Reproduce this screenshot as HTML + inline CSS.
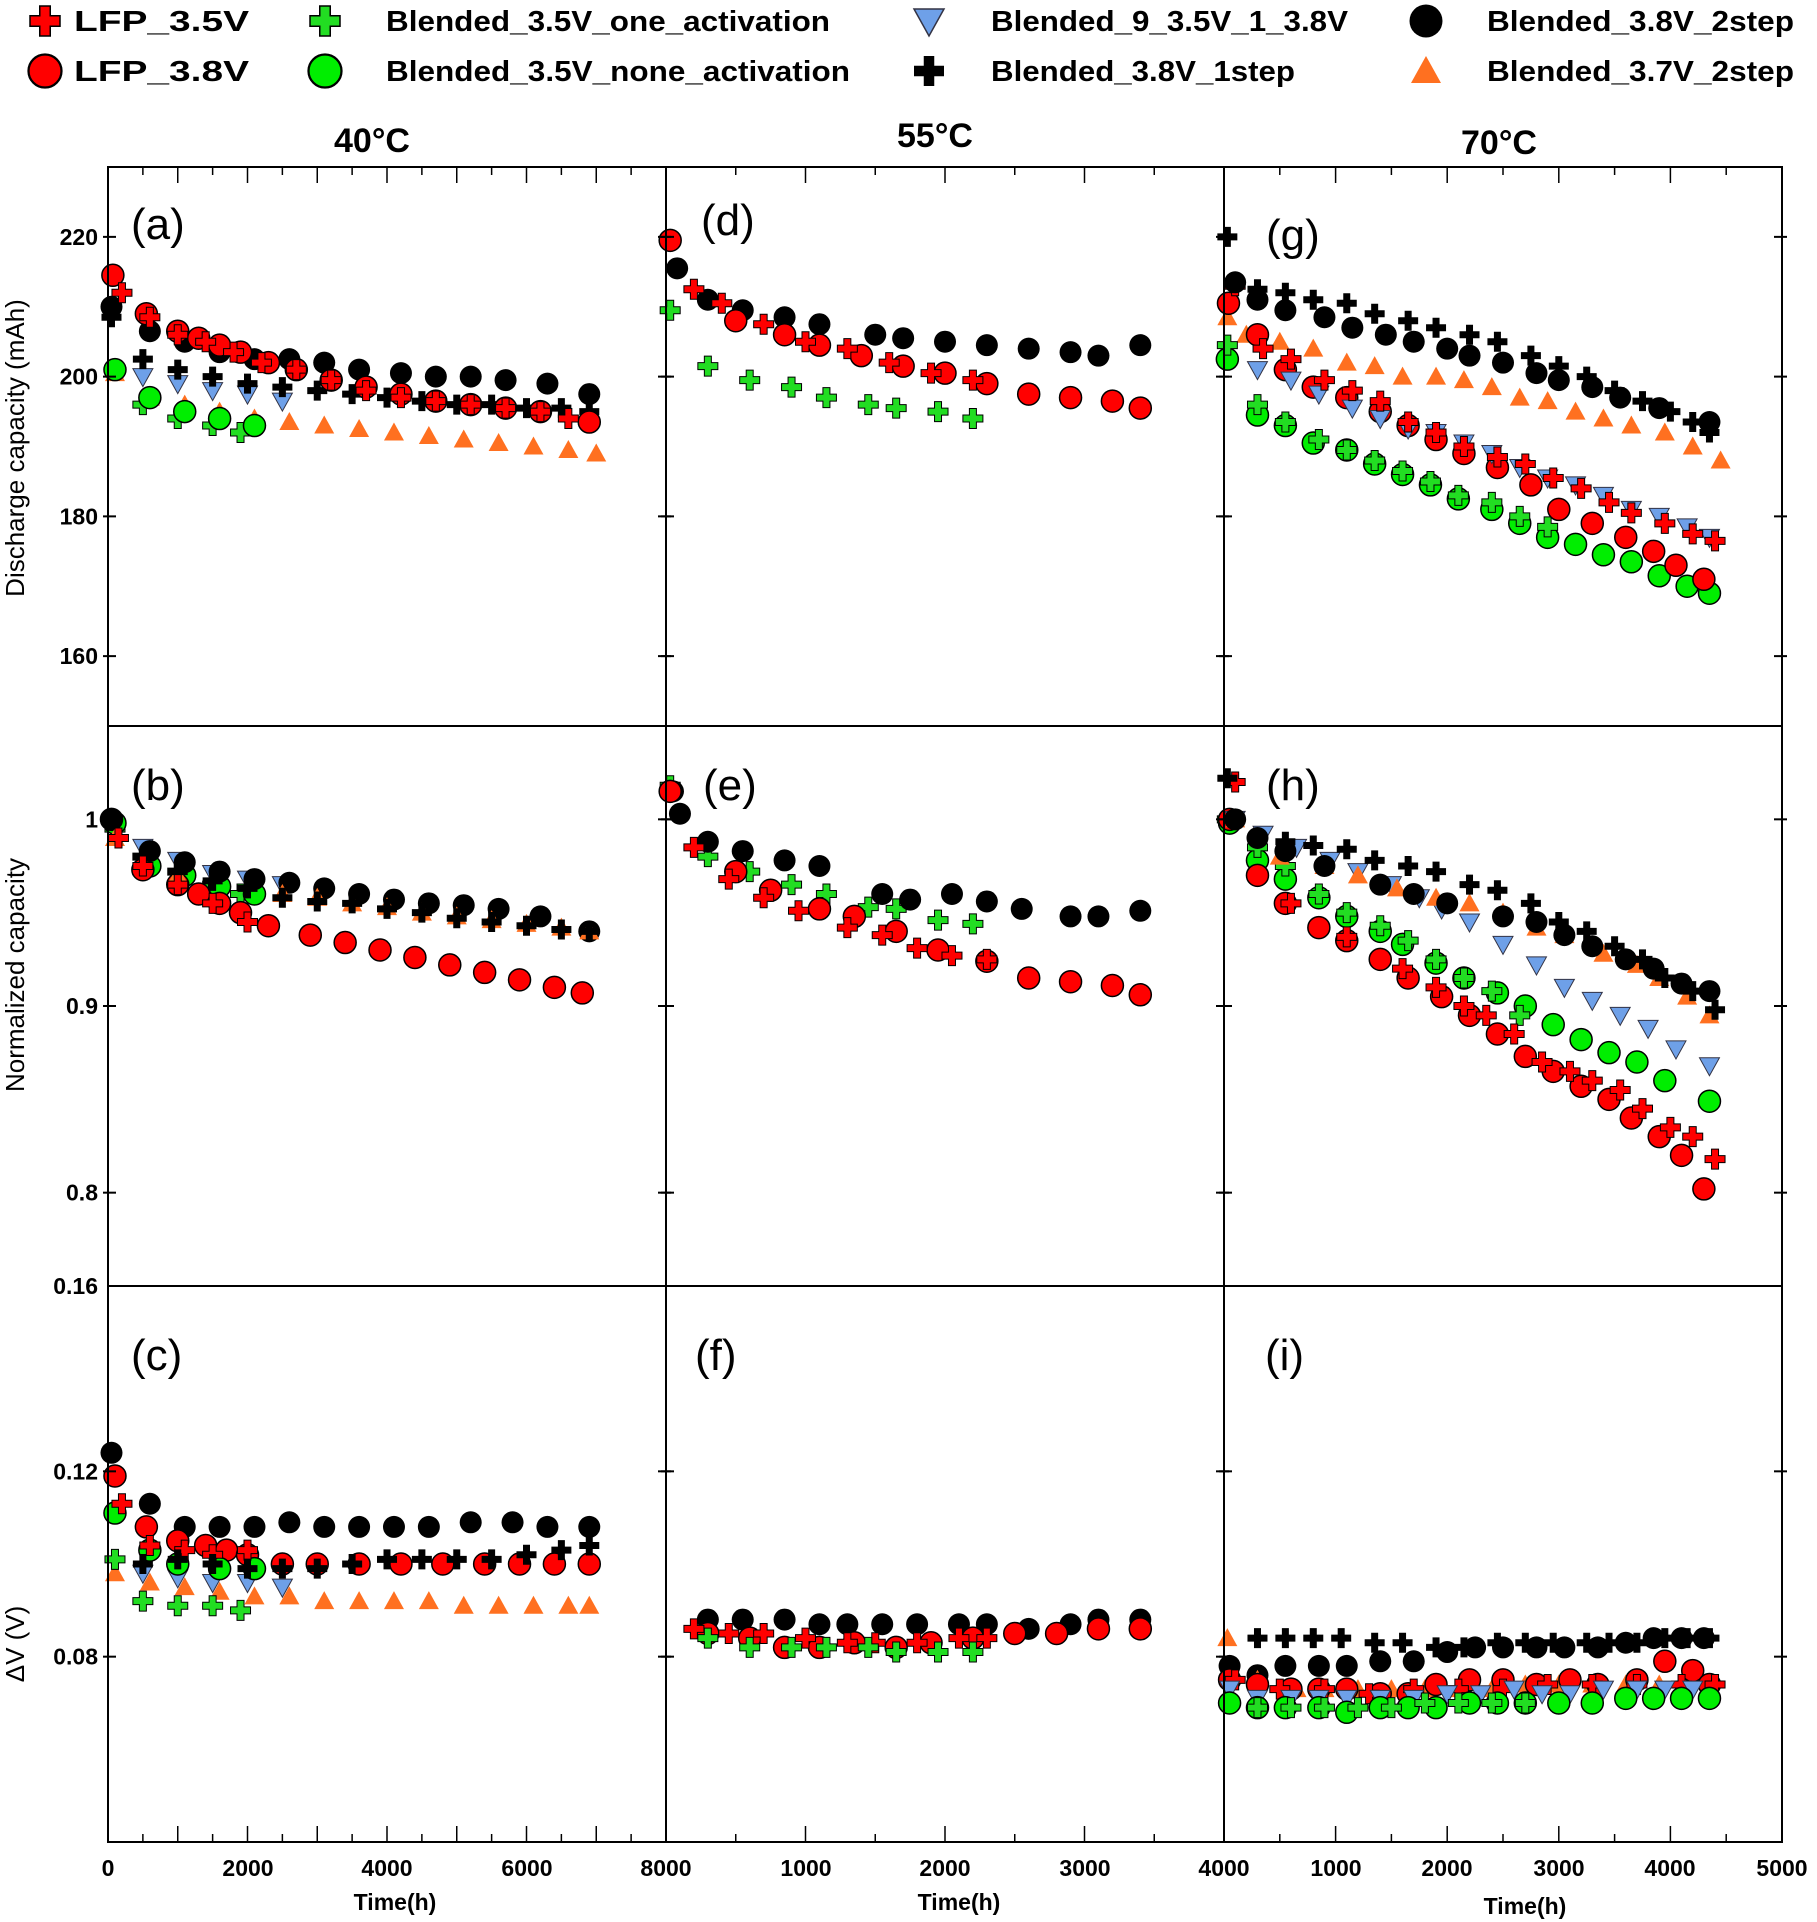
<!DOCTYPE html>
<html><head><meta charset="utf-8"><style>
html,body{margin:0;padding:0;background:#fff;}
svg{display:block;font-family:"Liberation Sans",Arial,sans-serif;}
</style></head><body>
<svg id="s" width="1817" height="1922" viewBox="0 0 1817 1922" xmlns="http://www.w3.org/2000/svg"></svg>
<script>
const S=document.getElementById('s');let h='';
const X0=[108,666,1224],X1=[666,1224,1782],Y0=[167,726,1286],Y1=[726,1286,1842];
const XR=[8000,4000,5000];const YR=[[150,230],[0.75,1.05],[0.04,0.16]];
function px(c,t){return X0[c]+t/XR[c]*(X1[c]-X0[c]);}
function py(r,v){const[a,b]=YR[r];return Y1[r]-(v-a)/(b-a)*(Y1[r]-Y0[r]);}
const R=11;
function mk(type,x,y){
 if(type=='rc')return `<circle cx="${x}" cy="${y}" r="${R}" fill="#f00" stroke="#000" stroke-width="1.5"/>`;
 if(type=='gc')return `<circle cx="${x}" cy="${y}" r="${R}" fill="#0e0" stroke="#000" stroke-width="1.5"/>`;
 if(type=='kc')return `<circle cx="${x}" cy="${y}" r="${R}" fill="#000"/>`;
 if(type=='bt')return `<path d="M${x-10},${y-8}L${x+10},${y-8}L${x},${y+10}Z" fill="#6ea0e8" stroke="#334" stroke-width="1"/>`;
 if(type=='ot')return `<path d="M${x-10},${y+8}L${x+10},${y+8}L${x},${y-10}Z" fill="#ff7020"/>`;
 let f=type=='rp'?'#f00':type=='gp'?'#2d2':'#000';let s=type=='kp'?'none':'#000';let a=10,b=3.5;
 return `<path d="M${x-b},${y-a}h${2*b}v${a-b}h${a-b}v${2*b}h${-(a-b)}v${a-b}h${-2*b}v${-(a-b)}h${-(a-b)}v${-2*b}h${a-b}Z" fill="${f}" stroke="${s}" stroke-width="1"/>`;
}
function ser(c,r,type,arr){for(let i=0;i<arr.length;i+=2)h+=mk(type,px(c,arr[i]),py(r,arr[i+1]));}
// panel a
ser(0,0,'ot',[100,200.5,600,197,1100,196,1600,195,2100,194,2600,193.5,3100,193,3600,192.5,4100,192,4600,191.5,5100,191,5600,190.5,6100,190,6600,189.5,7000,189]);
ser(0,0,'gp',[100,201,500,196,1000,194,1500,193,1900,192]);
ser(0,0,'gc',[100,201,600,197,1100,195,1600,194,2100,193]);
ser(0,0,'bt',[500,200,1000,199,1500,198,2000,197.5,2500,196.5]);
ser(0,0,'kc',[50,210,600,206.5,1100,205,1600,203.5,2100,202.5,2600,202.5,3100,202,3600,201,4200,200.5,4700,200,5200,200,5700,199.5,6300,199,6900,197.5]);
ser(0,0,'kp',[50,208.5,500,202.5,1000,201,1500,200,2000,199,2500,198.5,3000,198,3500,197.5,4000,197,4500,196.5,5000,196,5500,196,6000,195.5,6500,195.5,6900,195]);
ser(0,0,'rc',[70,214.5,550,209,1000,206.5,1300,205.5,1600,204.5,1900,203.5,2300,202,2700,201,3200,199.5,3700,198.5,4200,197.5,4700,196.5,5200,196,5700,195.5,6200,195,6900,193.5]);
ser(0,0,'rp',[200,212,600,208.5,1000,206,1400,205,1800,203.5,2200,202,2700,201,3200,199.5,3700,198,4200,197,4700,196.5,5200,196,5700,195.5,6200,195,6600,194]);
// panel d
ser(1,0,'gp',[30,209.5,300,201.5,600,199.5,900,198.5,1150,197,1450,196,1650,195.5,1950,195,2200,194]);
ser(1,0,'kc',[80,215.5,300,211,550,209.5,850,208.5,1100,207.5,1500,206,1700,205.5,2000,205,2300,204.5,2600,204,2900,203.5,3100,203,3400,204.5]);
ser(1,0,'rc',[30,219.5,500,208,850,206,1100,204.5,1400,203,1700,201.5,2000,200.5,2300,199,2600,197.5,2900,197,3200,196.5,3400,195.5]);
ser(1,0,'rp',[200,212.5,400,210.5,700,207.5,1000,205,1300,204,1600,202,1900,200.5,2200,199.5]);
// panel g
ser(2,0,'ot',[30,208.5,200,206,500,205,800,204,1100,202,1350,201.5,1600,200,1900,200,2150,199.5,2400,198.5,2650,197,2900,196.5,3150,195,3400,194,3650,193,3950,192,4200,190,4450,188]);
ser(2,0,'gc',[30,202.5,300,194.5,550,193,800,190.5,1100,189.5,1350,187.5,1600,186,1850,184.5,2100,182.5,2400,181,2650,179,2900,177,3150,176,3400,174.5,3650,173.5,3900,171.5,4150,170,4350,169]);
ser(2,0,'gp',[30,204.5,300,196,550,193.5,850,191,1100,189.5,1350,188,1600,186.5,1850,185,2100,183,2400,182,2650,180,2900,178.5]);
ser(2,0,'rc',[40,210.5,300,206,550,201,800,198.5,1100,197,1400,195,1650,193,1900,191,2150,189,2450,187,2750,184.5,3000,181,3300,179,3600,177,3850,175,4050,173,4300,171]);
ser(2,0,'bt',[300,201,600,199.5,850,197.5,1150,195.5,1400,194,1650,192.5,1900,192,2150,190.5,2400,189,2650,187,2900,185.5,3150,184.5,3400,183,3650,181,3900,180,4150,178.5,4350,177]);
ser(2,0,'rp',[100,213,350,204,600,202.5,900,199.5,1150,198,1400,196.5,1650,193.5,1900,192,2150,190,2450,188.5,2700,187.5,2950,185.5,3200,184,3450,182,3650,180.5,3950,179,4200,177.5,4400,176.5]);
ser(2,0,'kc',[100,213.5,300,211,550,209.5,900,208.5,1150,207,1450,206,1700,205,2000,204,2200,203,2500,202,2800,200.5,3000,199.5,3300,198.5,3550,197,3900,195.5,4350,193.5]);
ser(2,0,'kp',[30,220,300,212.5,550,212,800,211,1100,210.5,1350,209,1650,208,1900,207,2200,206,2450,205,2750,203,3000,201.5,3250,200,3500,198,3750,196.5,4000,195,4200,193.5,4350,192]);
// panel b
ser(0,1,'gp',[100,0.995,500,0.98,1000,0.972,1500,0.965,1900,0.96]);
ser(0,1,'gc',[100,0.998,600,0.975,1100,0.97,1600,0.964,2100,0.96]);
ser(0,1,'bt',[500,0.985,1000,0.978,1500,0.971,2000,0.968,2500,0.965]);
ser(0,1,'rc',[50,1.0,500,0.973,1000,0.965,1300,0.96,1600,0.955,1900,0.95,2300,0.943,2900,0.938,3400,0.934,3900,0.93,4400,0.926,4900,0.922,5400,0.918,5900,0.914,6400,0.91,6800,0.907]);
ser(0,1,'kc',[50,1.0,600,0.983,1100,0.977,1600,0.972,2100,0.968,2600,0.966,3100,0.963,3600,0.96,4100,0.957,4600,0.955,5100,0.954,5600,0.952,6200,0.948,6900,0.94]);
ser(0,1,'ot',[100,0.99,1000,0.97,2500,0.96,3000,0.958,3500,0.955,4000,0.953,4500,0.95,5000,0.948,5500,0.946,6000,0.944,6500,0.942,6900,0.94]);
ser(0,1,'kp',[50,1.0,500,0.98,1000,0.972,1500,0.967,2000,0.963,2500,0.958,3000,0.956,3500,0.955,4000,0.952,4500,0.95,5000,0.947,5500,0.945,6000,0.943,6500,0.941,6900,0.94]);
ser(0,1,'rp',[150,0.99,500,0.975,1000,0.965,1500,0.955,2000,0.945]);
// panel e
ser(1,1,'gp',[30,1.018,300,0.98,600,0.972,900,0.965,1150,0.96,1450,0.953,1650,0.952,1950,0.946,2200,0.944]);
ser(1,1,'kc',[50,1.015,100,1.003,300,0.988,550,0.983,850,0.978,1100,0.975,1550,0.96,1750,0.957,2050,0.96,2300,0.956,2550,0.952,2900,0.948,3100,0.948,3400,0.951]);
ser(1,1,'rc',[30,1.015,500,0.972,750,0.962,1100,0.952,1350,0.948,1650,0.94,1950,0.93,2300,0.924,2600,0.915,2900,0.913,3200,0.911,3400,0.906]);
ser(1,1,'rp',[200,0.985,450,0.968,700,0.958,950,0.951,1300,0.942,1550,0.938,1800,0.931,2050,0.927,2300,0.925]);
// panel h
ser(2,1,'gc',[50,0.998,300,0.978,550,0.968,850,0.958,1100,0.948,1400,0.94,1600,0.933,1900,0.923,2150,0.915,2450,0.907,2700,0.9,2950,0.89,3200,0.882,3450,0.875,3700,0.87,3950,0.86,4350,0.849]);
ser(2,1,'gp',[30,1.0,300,0.985,550,0.975,850,0.96,1100,0.95,1400,0.943,1650,0.935,1900,0.925,2150,0.915,2400,0.908,2650,0.895]);
ser(2,1,'rc',[50,1.0,300,0.97,550,0.955,850,0.942,1100,0.935,1400,0.925,1650,0.915,1950,0.905,2200,0.895,2450,0.885,2700,0.873,2950,0.865,3200,0.857,3450,0.85,3650,0.84,3900,0.83,4100,0.82,4300,0.802]);
ser(2,1,'rp',[100,1.02,600,0.955,1100,0.937,1600,0.92,1900,0.91,2150,0.9,2350,0.895,2600,0.885,2850,0.87,3100,0.865,3300,0.86,3550,0.855,3750,0.845,4000,0.835,4200,0.83,4400,0.818]);
ser(2,1,'bt',[100,1.0,350,0.992,650,0.985,950,0.978,1200,0.972,1500,0.965,1750,0.958,1950,0.952,2200,0.945,2500,0.933,2800,0.922,3050,0.91,3300,0.903,3550,0.895,3800,0.888,4050,0.877,4350,0.868]);
ser(2,1,'ot',[100,1.0,500,0.98,900,0.975,1200,0.97,1550,0.963,1900,0.958,2200,0.955,2500,0.95,2800,0.942,3050,0.938,3400,0.928,3700,0.922,3900,0.915,4150,0.905,4350,0.895]);
ser(2,1,'kc',[100,1.0,300,0.99,550,0.983,900,0.975,1400,0.965,1700,0.96,2000,0.955,2500,0.948,2800,0.945,3050,0.938,3300,0.932,3600,0.925,3850,0.92,4100,0.912,4350,0.908]);
ser(2,1,'kp',[30,1.022,300,0.99,550,0.988,800,0.986,1100,0.984,1350,0.978,1650,0.975,1900,0.972,2200,0.965,2450,0.962,2750,0.955,3000,0.945,3250,0.94,3500,0.932,3750,0.925,3950,0.915,4200,0.908,4400,0.898]);
// panel c
ser(0,2,'ot',[100,0.098,600,0.096,1100,0.095,1600,0.094,2100,0.093,2600,0.093,3100,0.092,3600,0.092,4100,0.092,4600,0.092,5100,0.091,5600,0.091,6100,0.091,6600,0.091,6900,0.091]);
ser(0,2,'gp',[100,0.101,500,0.092,1000,0.091,1500,0.091,1900,0.09]);
ser(0,2,'bt',[500,0.098,1000,0.097,1500,0.096,2000,0.096,2500,0.095]);
ser(0,2,'kc',[50,0.124,600,0.113,1100,0.108,1600,0.108,2100,0.108,2600,0.109,3100,0.108,3600,0.108,4100,0.108,4600,0.108,5200,0.109,5800,0.109,6300,0.108,6900,0.108]);
ser(0,2,'rc',[100,0.119,550,0.108,1000,0.105,1400,0.104,1700,0.103,2000,0.102,2500,0.1,3000,0.1,3600,0.1,4200,0.1,4800,0.1,5400,0.1,5900,0.1,6400,0.1,6900,0.1]);
ser(0,2,'gc',[100,0.111,600,0.103,1000,0.1,1600,0.099,2100,0.099]);
ser(0,2,'rp',[200,0.113,600,0.104,1100,0.103,1500,0.102,2000,0.103]);
ser(0,2,'kp',[500,0.1,1000,0.101,1500,0.1,2000,0.099,2500,0.099,3000,0.099,3500,0.1,4000,0.101,4500,0.101,5000,0.101,5500,0.101,6000,0.102,6500,0.103,6900,0.104]);
// panel f
ser(1,2,'kc',[300,0.088,550,0.088,850,0.088,1100,0.087,1300,0.087,1550,0.087,1800,0.087,2100,0.087,2300,0.087,2600,0.086,2900,0.087,3100,0.088,3400,0.088]);
ser(1,2,'rc',[300,0.085,600,0.084,850,0.082,1100,0.082,1350,0.083,1650,0.082,1900,0.083,2200,0.084,2500,0.085,2800,0.085,3100,0.086,3400,0.086]);
ser(1,2,'rp',[200,0.086,450,0.085,700,0.085,1000,0.084,1300,0.083,1500,0.083,1800,0.083,2100,0.084,2300,0.084]);
ser(1,2,'gp',[300,0.084,600,0.082,900,0.082,1150,0.082,1450,0.082,1650,0.081,1950,0.081,2200,0.081]);
// panel i
ser(2,2,'kp',[300,0.084,550,0.084,800,0.084,1050,0.084,1350,0.083,1600,0.083,1900,0.082,2150,0.082,2450,0.083,2700,0.083,2950,0.083,3250,0.083,3450,0.083,3700,0.083,3950,0.084,4150,0.084,4350,0.084]);
ser(2,2,'kc',[50,0.078,300,0.076,550,0.078,850,0.078,1100,0.078,1400,0.079,1700,0.079,2000,0.081,2250,0.082,2500,0.082,2800,0.082,3050,0.082,3350,0.082,3600,0.083,3850,0.084,4100,0.084,4300,0.084]);
ser(2,2,'ot',[30,0.084,300,0.075,650,0.073,900,0.073,1200,0.073,1500,0.073,1800,0.073,2100,0.073,2400,0.073,2700,0.074,3000,0.074,3300,0.074,3600,0.074,3900,0.074,4150,0.074,4350,0.073]);
ser(2,2,'rc',[50,0.075,300,0.074,600,0.073,850,0.073,1100,0.073,1400,0.072,1650,0.072,1900,0.074,2200,0.075,2500,0.075,2800,0.074,3100,0.075,3350,0.074,3700,0.075,3950,0.079,4200,0.077,4350,0.074]);
ser(2,2,'rp',[100,0.075,500,0.073,900,0.073,1300,0.072,1700,0.073,2100,0.073,2500,0.073,2900,0.074,3300,0.074,3700,0.074,4100,0.074,4400,0.074]);
ser(2,2,'bt',[50,0.073,300,0.071,600,0.071,850,0.071,1100,0.071,1400,0.071,1700,0.071,2000,0.072,2300,0.072,2600,0.073,2850,0.072,3100,0.072,3400,0.073,3700,0.073,3950,0.073,4200,0.073]);
ser(2,2,'gc',[50,0.07,300,0.069,550,0.069,850,0.069,1100,0.068,1400,0.069,1650,0.069,1900,0.069,2200,0.07,2450,0.07,2700,0.07,3000,0.07,3300,0.07,3600,0.071,3850,0.071,4100,0.071,4350,0.071]);
ser(2,2,'gp',[300,0.069,600,0.069,900,0.069,1200,0.069,1500,0.069,1800,0.07,2100,0.07,2400,0.07,2700,0.07]);
// frames and ticks
let g='';
for(let c=0;c<3;c++)for(let r=0;r<3;r++){
 g+=`<rect x="${X0[c]}" y="${Y0[r]}" width="${X1[c]-X0[c]}" height="${Y1[r]-Y0[r]}" fill="none" stroke="#000" stroke-width="2"/>`;
}
const yt=[[160,180,200,220],[0.8,0.9,1.0],[0.08,0.12]];
for(let c=0;c<3;c++){
 const n=c==0?16:(c==1?8:10);
 for(let i=1;i<n;i++){const x=X0[c]+i*(X1[c]-X0[c])/n;const L=i%2==0?16:8;
  g+=`<line x1="${x}" y1="${Y1[2]}" x2="${x}" y2="${Y1[2]-L}" stroke="#000" stroke-width="1.5"/><line x1="${x}" y1="${Y0[0]}" x2="${x}" y2="${Y0[0]+L}" stroke="#000" stroke-width="1.5"/>`;}
 for(let r=0;r<3;r++)for(const v of yt[r]){const y=py(r,v);
  g+=`<line x1="${X0[c]-5}" y1="${y}" x2="${X0[c]+8}" y2="${y}" stroke="#000" stroke-width="2"/><line x1="${X1[c]-8}" y1="${y}" x2="${X1[c]+5}" y2="${y}" stroke="#000" stroke-width="2"/>`;}
}
// tick labels
const T='font-weight="bold" font-size="23" text-anchor="middle"';
[['0',108],['2000',248],['4000',387],['6000',527],['8000',666],['1000',806],['2000',945],['3000',1085],['4000',1224],['1000',1336],['2000',1447],['3000',1559],['4000',1670],['5000',1782]].forEach(a=>g+=`<text x="${a[1]}" y="1876" ${T}>${a[0]}</text>`);
const YL=[[0,'220',220],[0,'200',200],[0,'180',180],[0,'160',160],[1,'1',1.0],[1,'0.9',0.9],[1,'0.8',0.8],[2,'0.16',0.16],[2,'0.12',0.12],[2,'0.08',0.08]];
YL.forEach(a=>g+=`<text x="98" y="${py(a[0],a[2])+8}" font-weight="bold" font-size="23" text-anchor="end">${a[1]}</text>`);
[395,959,1525].forEach((x,i)=>g+=`<text x="${x}" y="${1910+(i==2?4:0)}" ${T} font-size="26">Time(h)</text>`);
g+=`<text transform="translate(24,448) rotate(-90)" font-size="26" text-anchor="middle">Discharge capacity (mAh)</text>`;
g+=`<text transform="translate(24,975) rotate(-90)" font-size="26" text-anchor="middle">Normalized capacity</text>`;
g+=`<text transform="translate(24,1644) rotate(-90)" font-size="26" text-anchor="middle">ΔV (V)</text>`;
[['40°C',372,152],['55°C',935,147],['70°C',1499,154]].forEach(a=>g+=`<text x="${a[1]}" y="${a[2]}" font-weight="bold" font-size="34" text-anchor="middle">${a[0]}</text>`);
[['(a)',131,239],['(b)',131,800],['(c)',131,1370],['(d)',701,235],['(e)',703,800],['(f)',695,1370],['(g)',1266,250],['(h)',1266,800],['(i)',1265,1370]].forEach(a=>g+=`<text x="${a[1]}" y="${a[2]}" font-size="44">${a[0]}</text>`);
// legend
function lg(type,x,y,t,tx,tl){g+=`<g transform="translate(${x},${y}) scale(1.5) translate(${-x},${-y})">${mk(type,x,y)}</g><text x="${tx}" y="${y+10}" font-weight="bold" font-size="29" textLength="${tl}" lengthAdjust="spacingAndGlyphs">${t}</text>`;}
lg('rp',45,21,'LFP_3.5V',74,175);lg('rc',45,71,'LFP_3.8V',74,175);
lg('gp',325,21,'Blended_3.5V_one_activation',386,444);lg('gc',325,71,'Blended_3.5V_none_activation',386,464);
lg('bt',929,21,'Blended_9_3.5V_1_3.8V',991,357);lg('kp',929,71,'Blended_3.8V_1step',991,304);
lg('kc',1426,21,'Blended_3.8V_2step',1487,307);lg('ot',1426,71,'Blended_3.7V_2step',1487,307);
S.innerHTML=h+g;
</script>
</body></html>
